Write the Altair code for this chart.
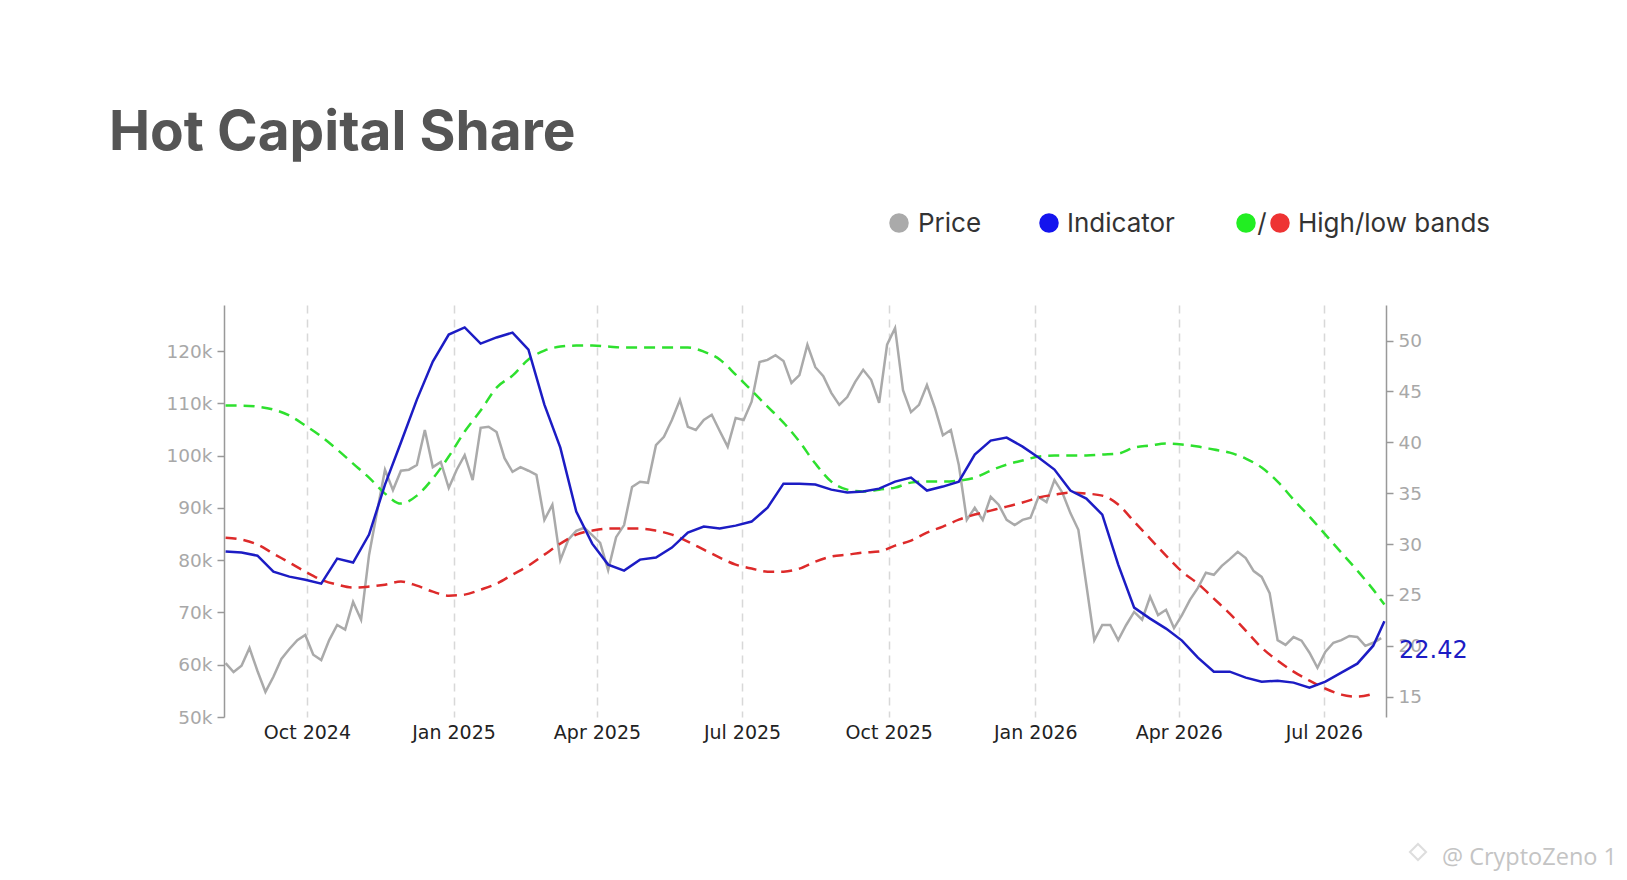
import altair as alt
import pandas as pd

# ---------------- text ----------------
TITLE = "Hot Capital Share"
LEGEND_LABELS = ["Price", "Indicator", "High/low bands"]
LAST_LABEL = "22.42"
WATERMARK = "@ CryptoZeno 1"

# ---------------- data ----------------
# Price (thousands USD), sampled every 5 days from 2024-08-11
PRICE_START = "2024-08-11"
PRICE_K = [
    60.3, 58.6, 59.8, 63.2, 58.8, 54.8, 57.7, 61.1, 63.0, 64.7,
    65.7, 61.9, 60.9, 64.7, 67.6, 66.7, 72.0, 68.6, 81.0, 89.2,
    97.3, 93.4, 97.1, 97.3, 98.2, 104.9, 97.8, 98.8, 93.8, 97.3,
    100.1, 95.3, 105.3, 105.5, 104.5, 99.5, 96.9, 97.8, 97.1, 96.3,
    87.7, 90.6, 80.0, 83.9, 85.6, 86.2, 84.8, 83.3, 78.1, 84.4,
    86.7, 94.0, 95.0, 94.8, 102.0, 103.6, 106.8, 110.6, 105.5, 104.9,
    106.8, 107.8, 104.7, 101.7, 107.2, 106.8, 110.3, 117.9, 118.3, 119.2,
    118.1, 113.9, 115.4, 121.2, 116.9, 115.2, 112.0, 109.7, 111.2, 114.1,
    116.4, 114.5, 110.1, 121.2, 124.4, 112.5, 108.3, 109.7, 113.5, 109.1,
    103.9, 104.9, 98.2, 87.7, 90.0, 87.7, 92.1, 90.6, 87.7, 86.7,
    87.7, 88.1, 92.1, 91.1, 95.3, 92.9, 89.0, 85.8, 75.3, 64.7,
    67.6, 67.6, 64.7, 67.6, 70.1, 68.6, 73.0, 69.5, 70.5, 67.0,
    69.5, 72.4, 74.7, 77.6, 77.2, 78.9, 80.2, 81.6, 80.4, 77.9,
    76.8, 73.7, 64.7, 63.8, 65.3, 64.6, 62.3, 59.4, 62.5, 64.2,
    64.7, 65.5, 65.3, 63.6, 64.2, 65.1,
]

# Indicator and bands, sampled every 10 days from 2024-08-11, plus the last day
SERIES_START = "2024-08-11"
LAST_DATE = "2026-08-08"
INDICATOR = [
    29.26, 29.16, 28.86, 27.29, 26.80, 26.50, 26.11, 28.57, 28.18, 30.93,
    35.85, 39.98, 44.20, 47.94, 50.60, 51.30, 49.71, 50.31, 50.79, 49.12,
    43.71, 39.48, 33.19, 30.04, 27.98, 27.39, 28.47, 28.67, 29.65, 31.13,
    31.72, 31.52, 31.81, 32.21, 33.58, 35.94, 35.94, 35.85, 35.35, 35.06,
    35.16, 35.45, 36.14, 36.53, 35.26, 35.65, 36.14, 38.80, 40.17, 40.47,
    39.58, 38.50, 37.32, 35.26, 34.47, 32.90, 27.98, 23.75, 22.67, 21.69,
    20.51, 18.83, 17.46, 17.46, 16.87, 16.47, 16.57, 16.38, 15.88, 16.47,
    17.36, 18.24, 20.01, 22.42,
]
HIGH_BAND = [
    43.61, 43.61, 43.51, 43.22, 42.63, 41.65, 40.57, 39.29, 37.91, 36.53,
    34.96, 33.98, 34.76, 36.44, 38.60, 41.06, 43.12, 45.38, 46.56, 48.14,
    49.02, 49.41, 49.51, 49.51, 49.41, 49.32, 49.32, 49.32, 49.32, 49.32,
    48.92, 48.14, 46.66, 45.09, 43.51, 41.94, 40.07, 37.91, 36.14, 35.35,
    35.16, 35.35, 35.55, 36.04, 36.14, 36.14, 36.24, 36.53, 37.22, 37.81,
    38.21, 38.60, 38.70, 38.70, 38.70, 38.80, 38.89, 39.48, 39.68, 39.88,
    39.78, 39.58, 39.29, 38.99, 38.40, 37.52, 36.14, 34.37, 32.70, 30.93,
    29.16, 27.39, 25.52, 24.05,
]
LOW_BAND = [
    30.63, 30.44, 29.95, 29.06, 28.18, 27.29, 26.50, 26.01, 25.72, 25.82,
    26.01, 26.31, 25.91, 25.32, 24.93, 25.03, 25.52, 26.11, 27.00, 27.88,
    28.96, 30.04, 30.93, 31.32, 31.52, 31.52, 31.52, 31.32, 30.93, 30.24,
    29.45, 28.67, 27.98, 27.59, 27.29, 27.29, 27.59, 28.27, 28.77, 28.96,
    29.16, 29.26, 29.85, 30.34, 31.13, 31.72, 32.40, 32.90, 33.29, 33.68,
    34.08, 34.57, 34.86, 35.06, 34.96, 34.76, 33.88, 32.21, 30.54, 28.86,
    27.29, 26.11, 24.64, 23.16, 21.49, 19.82, 18.54, 17.46, 16.57, 15.79,
    15.20, 15.00, 15.29, None,
]

price_dates = list(pd.date_range(PRICE_START, periods=len(PRICE_K), freq="5D").strftime("%Y-%m-%d"))
series_dates = list(pd.date_range(SERIES_START, periods=len(INDICATOR) - 1, freq="10D").strftime("%Y-%m-%d")) + [LAST_DATE]

df_price = pd.DataFrame({"date": price_dates, "price": PRICE_K})
df_ind = pd.DataFrame({"date": series_dates, "indicator": INDICATOR, "high": HIGH_BAND, "low": LOW_BAND})

# ---------------- styling ----------------
AX_FONT = "DejaVu Sans"
GRAY_AX = "#a8a8a8"
BLUE = "#1c1cc4"
GREEN = "#2ee02e"
RED = "#dd2a2a"
PRICE_GRAY = "#aaaaaa"

quarters = [(2024, 10), (2025, 1), (2025, 4), (2025, 7), (2025, 10), (2026, 1), (2026, 4), (2026, 7)]

x_enc = alt.X(
    "date:T",
    scale=alt.Scale(
        type="utc",
        domain=[alt.DateTime(year=2024, month=8, date=10, utc=True),
                alt.DateTime(year=2026, month=8, date=9, utc=True)],
    ),
    axis=alt.Axis(
        title=None, format="%b %Y",
        values=[alt.DateTime(year=y, month=m, date=1, utc=True) for y, m in quarters],
        grid=True, gridDash=[8, 6], gridColor="#d8d8d8", gridWidth=1.5,
        domain=False, ticks=False,
        labelFont=AX_FONT, labelFontSize=19, labelColor="#222222", labelPadding=6,
    ),
)

y_left = alt.Y(
    "price:Q",
    scale=alt.Scale(domain=[50, 128.8], nice=False, zero=False),
    axis=alt.Axis(
        orient="left", title=None, values=[50, 60, 70, 80, 90, 100, 110, 120],
        labelExpr="datum.value + 'k'", grid=False,
        domainColor="#999999", domainWidth=1.5, tickColor="#999999", tickSize=7, tickWidth=1.5,
        labelFont=AX_FONT, labelFontSize=18.5, labelColor=GRAY_AX, labelPadding=5,
    ),
)

right_scale = alt.Scale(domain=[13, 53.5], nice=False, zero=False)
right_axis = alt.Axis(
    orient="right", title=None, values=[15, 20, 25, 30, 35, 40, 45, 50], grid=False,
    domainColor="#999999", domainWidth=1.5, tickColor="#999999", tickSize=7, tickWidth=1.5,
    labelFont=AX_FONT, labelFontSize=18.5, labelColor=GRAY_AX, labelPadding=5,
)

price = alt.Chart(df_price).mark_line(color=PRICE_GRAY, strokeWidth=2.5).encode(x=x_enc, y=y_left)

low = alt.Chart(df_ind).mark_line(color=RED, strokeWidth=2.5, strokeDash=[11, 7], interpolate="monotone").encode(
    x=x_enc, y=alt.Y("low:Q", scale=right_scale, axis=right_axis))
high = alt.Chart(df_ind).mark_line(color=GREEN, strokeWidth=2.5, strokeDash=[11, 7], interpolate="monotone").encode(
    x=x_enc, y=alt.Y("high:Q", scale=right_scale, axis=right_axis))
ind = alt.Chart(df_ind).mark_line(color=BLUE, strokeWidth=2.5).encode(
    x=x_enc, y=alt.Y("indicator:Q", scale=right_scale, axis=right_axis))

right_layer = alt.layer(low, high, ind)


def text_layer(txt, x, y, size, color, font, weight="normal", align="left"):
    return alt.Chart(pd.DataFrame({"t": [txt]})).mark_text(
        align=align, baseline="alphabetic", fontSize=size, color=color, font=font, fontWeight=weight
    ).encode(text="t:N", x=alt.value(x), y=alt.value(y))


def dot(x, y, color):
    return alt.Chart(pd.DataFrame({"t": [0]})).mark_circle(size=380, color=color, opacity=1).encode(
        x=alt.value(x), y=alt.value(y))


title = text_layer(TITLE, -115, -155, 55, "#555555", "Inter", weight="bold")
leg = [
    dot(675, -82, "#aaaaaa"),
    text_layer(LEGEND_LABELS[0], 694, -73, 26, "#333333", "Inter"),
    dot(825, -82, "#1414ee"),
    text_layer(LEGEND_LABELS[1], 843, -73, 26, "#333333", "Inter"),
    dot(1022, -82, "#22ee22"),
    text_layer("/", 1038, -73, 26, "#333333", "Inter", align="center"),
    dot(1056, -82, "#ee3333"),
    text_layer(LEGEND_LABELS[2], 1074, -73, 26, "#333333", "Inter"),
]
last_lbl = text_layer(LAST_LABEL, 1175, 353, 24, BLUE, AX_FONT)
wm_icon = alt.Chart(pd.DataFrame({"t": [0]})).mark_point(
    shape="diamond", filled=False, size=260, color="#d0d0d0", strokeWidth=2).encode(
    x=alt.value(1194), y=alt.value(547))
wm = text_layer(WATERMARK, 1218, 560, 23.5, "#c4c4c4", "Open Sans")

chart = alt.layer(price, right_layer, title, *leg, last_lbl, wm_icon, wm).resolve_scale(
    y="independent"
).properties(
    width=1162, height=412,
    autosize=alt.AutoSizeParams(type="none"),
    padding={"left": 216, "top": 297, "right": 233, "bottom": 155},
    background="white",
).configure_view(strokeWidth=0)

chart.save("out.html", embed_options={"renderer": "svg", "actions": False})
